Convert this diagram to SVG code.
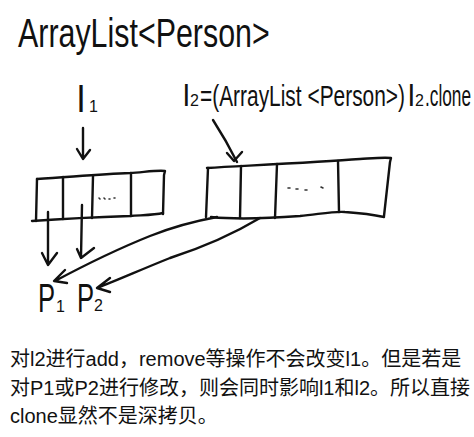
<svg xmlns="http://www.w3.org/2000/svg" width="474" height="437" viewBox="0 0 474 437">
<style>
.ink{fill:none;stroke:#111;stroke-width:2.4;stroke-linecap:round;stroke-linejoin:round}
.dot{fill:none;stroke:#333;stroke-width:1.6;stroke-linecap:round}
.hand{font-family:'Liberation Sans',sans-serif;fill:#111}
.sub{font-family:'Liberation Sans',sans-serif;fill:#111;font-size:16px}
.body{font-family:'Liberation Sans','Noto Sans CJK SC',sans-serif;font-size:20px;fill:#111}
</style>
<rect width="474" height="437" fill="#fff"/>
<g id="title">
<text class="hand" transform="translate(18,47) scale(0.76,1)" font-size="40">ArrayList&lt;Person&gt;</text>
</g>
<g id="label-l1">
<text class="hand" x="77" y="112" font-size="36">l</text>
<text class="sub" x="89" y="112" font-size="18">1</text>
</g>
<g id="label-l2">
<text class="hand" x="183" y="106" font-size="30">l</text>
<text class="sub" x="190" y="106">2</text>
<text class="hand" transform="translate(200,106) scale(0.697,1)" font-size="30">=(ArrayList &lt;Person&gt;)</text>
<text class="hand" x="408" y="106" font-size="30">l</text>
<text class="sub" x="415" y="106">2</text>
<text class="hand" transform="translate(425,106) scale(0.575,1)" font-size="30">.clone</text>
</g>
<g id="array-l1">
<path class="ink" d="M37,179 C70,177 100,174 130,173 C145,172 158,170 165,171 L164,175 L163,214"/>
<path class="ink" d="M37,179 L36,221"/>
<path class="ink" d="M32,221 C60,219 100,217 130,216 C145,215 155,215 163,213"/>
<path class="ink" d="M63,177 L63,219 M93,176 L92,218 M131,174 L131,216"/>
<path class="dot" d="M99,198 l1,1 M104,198 l1,1 M109,199 l1,0 M114,198 l1,0"/>
</g>
<g id="array-l2">
<path class="ink" d="M207,168 C260,165 320,162 360,159 C375,158 385,157 391,158 L390,162 L384,216"/>
<path class="ink" d="M208,168 L206,217"/>
<path class="ink" d="M211,217 C230,219 260,219 300,216 C320,214 335,211 345,212 C360,213 375,215 384,217"/>
<path class="ink" d="M241,166 L240,218 M277,164 L275,218 M338,161 L339,212"/>
<path class="dot" d="M288,188 l2,0 M296,189 l2,0 M305,190 l2,0 M321,187 l2,1"/>
</g>
<g id="P1">
<text class="hand" transform="translate(38,312) scale(0.64,1)" font-size="40">P</text>
<text class="sub" x="56" y="312">1</text>
</g>
<g id="P2">
<text class="hand" transform="translate(77,312) scale(0.64,1)" font-size="40">P</text>
<text class="sub" x="94" y="311">2</text>
</g>
<g id="connectors">
<path class="ink" d="M83,128 L83,158 M77,149 L83,159 L90,150"/>
<path class="ink" d="M213,120 C222,134 230,148 237,162 M227,153 L234,161 L242,152"/>
<path class="ink" d="M48,212 L48,264 M42,253 L48,265 L57,253"/>
<path class="ink" d="M82,205 L81,257 M77,249 L81,258 L94,248"/>
<path class="ink" d="M217,217 C190,222 170,228 150,236 C115,250 85,265 55,281 M65,270 L54,281 L67,283"/>
<path class="ink" d="M260,218 C240,230 210,245 170,258 C140,270 118,280 97,288 M110,278 L97,288 L110,292"/>
</g>
<g id="caption">
<text class="body" x="10" y="366">对l2进行add，remove等操作不会改变l1。但是若是</text>
<text class="body" x="10" y="395">对P1或P2进行修改，则会同时影响l1和l2。所以直接</text>
<text class="body" x="10" y="423">clone显然不是深拷贝。</text>
</g>
</svg>
